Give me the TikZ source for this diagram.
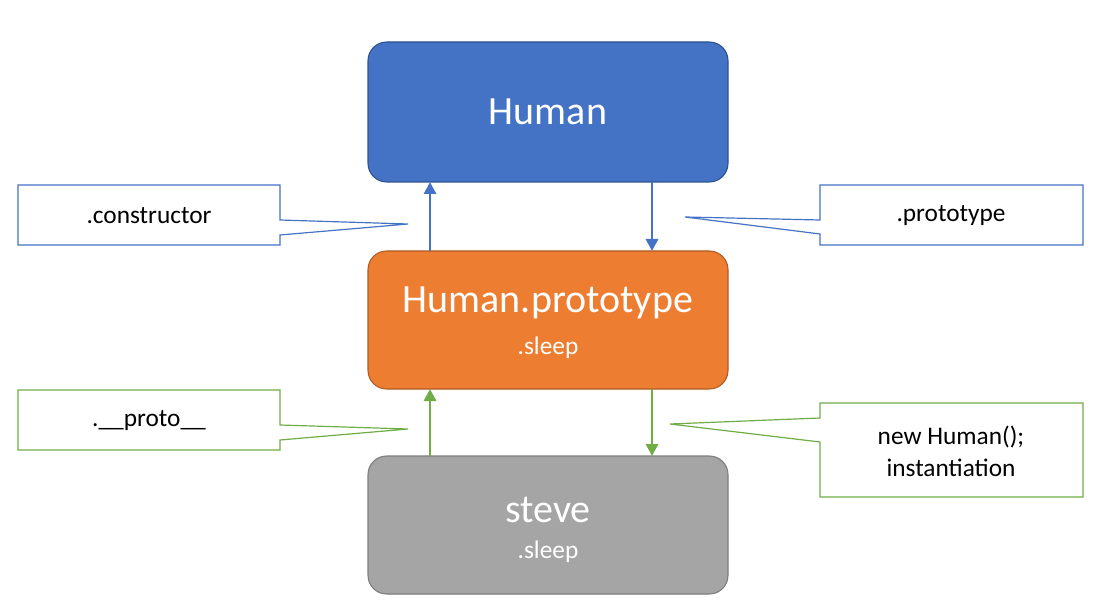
\documentclass[tikz,border=0pt]{standalone}
\usepackage{fontspec}
\setmainfont{Carlito}
\definecolor{hblue}{RGB}{68,114,196}
\definecolor{hblueD}{RGB}{47,82,143}
\definecolor{horange}{RGB}{237,125,49}
\definecolor{horangeD}{RGB}{174,90,33}
\definecolor{hgray}{RGB}{165,165,165}
\definecolor{hgrayD}{RGB}{124,124,124}
\definecolor{hgreen}{RGB}{112,173,71}
\begin{document}
\begin{tikzpicture}[x=0.75pt,y=-0.75pt,
  bigbox/.style={rounded corners=14pt,line width=0.8pt},
  callout/.style={draw,fill=white,line width=0.9pt},
  conn/.style={line width=2.2pt,-{Triangle[length=9pt,width=9pt]}}]
\useasboundingbox (0,0) rectangle (1106,602);
\usetikzlibrary{arrows.meta}
% main boxes
\draw[bigbox,fill=hblue,draw=hblueD] (368,42) rectangle (728,182);
\node[text=white,font=\fontsize{30}{34}\selectfont] (human) at (548,112) {Human};
\coordinate (hb1) at (430,182); \coordinate (hb2) at (652,182);
\draw[bigbox,fill=horange,draw=horangeD] (368,251) rectangle (728,389);
\node[text=white,font=\fontsize{30}{34}\selectfont] (proto) at (548,303) {Human.prototype};
\node[text=white,font=\fontsize{19}{22}\selectfont] (psleep) at (548,348) {.sleep};
\coordinate (pt1) at (430,251); \coordinate (pt2) at (652,251);
\coordinate (pb1) at (430,389); \coordinate (pb2) at (652,389);
\draw[bigbox,fill=hgray,draw=hgrayD] (368,456) rectangle (728,594);
\node[text=white,font=\fontsize{30}{34}\selectfont] (steve) at (548,510) {steve};
\node[text=white,font=\fontsize{19}{22}\selectfont] (ssleep) at (548,552) {.sleep};
\coordinate (st1) at (430,456); \coordinate (st2) at (652,456);
% arrows
\draw[conn,hblue] (pt1) -- (hb1);
\draw[conn,hblue] (hb2) -- (pt2);
\draw[conn,hgreen] (st1) -- (pb1);
\draw[conn,hgreen] (pb2) -- (st2);
% callouts
\draw[callout,draw=hblue] (18,185) -- (280,185) -- (280,220) -- (408,224) -- (280,235) -- (280,245) -- (18,245) -- cycle;
\node[font=\fontsize{19}{22}\selectfont] (c1) at (149,216) {.constructor};
\draw[callout,draw=hblue] (1083,185) -- (820,185) -- (820,220) -- (685,217) -- (820,234) -- (820,245) -- (1083,245) -- cycle;
\node[font=\fontsize{19}{22}\selectfont] (c2) at (951,216) {.prototype};
\draw[callout,draw=hgreen] (18,390) -- (280,390) -- (280,425) -- (408,429) -- (280,440) -- (280,450) -- (18,450) -- cycle;
\node[font=\fontsize{19}{22}\selectfont] (c3) at (149,421) {.\_\_proto\_\_};
\draw[callout,draw=hgreen] (1083,403) -- (820,403) -- (820,418) -- (670,424) -- (820,442) -- (820,497) -- (1083,497) -- cycle;
\node[font=\fontsize{19}{24}\selectfont,align=center] (c4) at (951,451) {new Human();\\instantiation};
\end{tikzpicture}
\end{document}
